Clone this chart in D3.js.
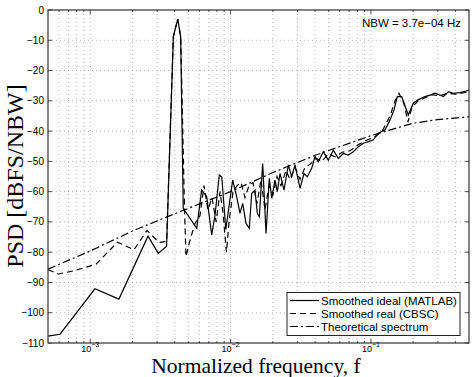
<!DOCTYPE html>
<head>
  <meta charset="utf-8">
  <script src="https://d3js.org/d3.v7.min.js"></script>
  <style>
    body { margin:0; background:#fff; }
    svg { display:block; }
  </style>
</head>
<body>
<svg width="474" height="377"></svg>
<script>

// smoothed ideal (MATLAB) - solid
const idealF = [5.0e-4, 6.09e-4, 1.08e-3, 1.60e-3, 2.58e-3, 3.05e-3, 3.50e-3, 3.91e-3, 4.20e-3, 4.41e-3,
  4.60e-3, 5.74e-3, 6.22e-3, 6.76e-3, 7.34e-3, 7.75e-3, 8.31e-3, 8.65e-3, 9.25e-3, 1.035e-2,
  1.106e-2, 1.167e-2, 1.220e-2, 1.288e-2, 1.360e-2, 1.414e-2, 1.493e-2, 1.551e-2, 1.602e-2, 1.694e-2,
  1.789e-2, 1.888e-2, 1.964e-2, 2.073e-2, 2.153e-2, 2.250e-2, 2.403e-2, 2.579e-2, 2.727e-2, 2.877e-2,
  3.125e-2, 3.337e-2, 3.522e-2, 3.785e-2, 3.995e-2, 4.218e-2, 4.578e-2, 4.970e-2, 5.395e-2, 5.856e-2,
  6.358e-2, 6.902e-2, 7.493e-2, 8.134e-2, 8.830e-2, 9.586e-2, 0.1041, 0.1130, 0.1261, 0.1368,
  0.1461, 0.1542, 0.1658, 0.1847, 0.2005, 0.2177, 0.2430, 0.2638, 0.2863, 0.3108,
  0.3281, 0.3561, 0.3866, 0.4315, 0.5]
const idealDb = [-107.7, -107.1, -92.1, -95.5, -74.7, -80.4, -78.0, -8.8, -3.0, -8.8,
  -65.5, -72.1, -59.5, -61.7, -74.3, -67.7, -54.5, -55.1, -72.5, -56.2,
  -61.7, -67.2, -63.9, -70.5, -72.1, -60.6, -59.5, -67.2, -68.3, -50.7,
  -73.8, -55.6, -62.2, -56.2, -60.0, -54.0, -59.5, -51.2, -55.1, -51.2,
  -58.9, -54.0, -55.1, -52.3, -48.4, -50.1, -46.8, -49.6, -46.3, -49.0,
  -47.4, -47.9, -46.8, -45.2, -44.0, -43.5, -42.9, -40.7, -39.6, -36.3,
  -33.0, -28.6, -28.6, -34.7, -30.8, -29.6, -28.6, -28.1, -27.5, -28.1,
  -28.6, -27.0, -27.5, -27.3, -26.5]

// smoothed real (CBSC) - dashed
const realF = [5.0e-4, 5.92e-4, 7.57e-4, 1.099e-3, 1.564e-3, 2.05e-3, 2.538e-3, 3.09e-3, 3.50e-3, 3.91e-3,
  4.20e-3, 4.41e-3, 4.69e-3, 4.81e-3, 5.14e-3, 5.58e-3, 6.05e-3, 6.47e-3, 6.90e-3, 7.37e-3,
  7.89e-3, 8.41e-3, 8.83e-3, 9.35e-3, 9.75e-3, 1.041e-2, 1.112e-2, 1.187e-2, 1.267e-2, 1.353e-2,
  1.444e-2, 1.542e-2, 1.647e-2, 1.759e-2, 1.878e-2, 2.006e-2, 2.142e-2, 2.287e-2, 2.483e-2, 2.652e-2,
  2.877e-2, 3.125e-2, 3.391e-2, 3.681e-2, 4.06e-2, 4.48e-2, 4.97e-2, 5.55e-2, 6.22e-2, 7.1e-2,
  8.1e-2, 9.27e-2, 0.1057, 0.1205, 0.1368, 0.1486, 0.1586, 0.1721, 0.1838, 0.1963,
  0.2177, 0.243, 0.2725, 0.3108, 0.3544, 0.404, 0.5]
const realDb = [-85.8, -87.2, -86.2, -84.0, -76.7, -79.2, -72.8, -76.8, -76.5, -8.8,
  -3.0, -8.8, -64.5, -81.5, -76.0, -70.5, -68.0, -58.0, -66.0, -62.0,
  -70.0, -60.0, -67.0, -80.0, -70.0, -60.0, -58.0, -57.0, -62.0, -58.0,
  -57.0, -64.0, -56.0, -66.0, -58.0, -61.0, -55.0, -58.0, -53.0, -56.0,
  -52.0, -56.0, -52.0, -51.0, -49.0, -50.0, -47.5, -48.5, -47.0, -46.5,
  -44.5, -43.0, -42.0, -40.0, -35.0, -30.0, -27.5, -31.0, -37.0, -32.0,
  -30.0, -29.0, -28.0, -28.3, -27.5, -27.8, -27.0]

// theoretical spectrum - dash-dot
const theoF = [5e-4, 1e-3, 2e-3, 4e-3, 1e-2, 2e-2, 4e-2, 0.1, 0.2, 0.3, 0.5]
const theoDb = [-85.6, -79.6, -73.0, -67.3, -60.0, -53.7, -48.0, -41.5, -37.4, -36.2, -35.3]

const yTicks = d3.range(-110, 1, 10)
const xMajor = [1e-3, 1e-2, 1e-1]
const xMinor = [6e-4, 7e-4, 8e-4, 9e-4, 2e-3, 3e-3, 4e-3, 5e-3, 6e-3, 7e-3, 8e-3, 9e-3,
  2e-2, 3e-2, 4e-2, 5e-2, 6e-2, 7e-2, 8e-2, 9e-2, 2e-1, 3e-1, 4e-1]
const xExp = ['\u22123', '\u22122', '\u22121']

const legendItems = [
  {label: 'Smoothed ideal (MATLAB)', dash: null},
  {label: 'Smoothed real (CBSC)', dash: '6,4'},
  {label: 'Theoretical spectrum', dash: '8,3,2,3'}
]

const svg = d3.select('svg')
const L = 48, R = 469, T = 10, B = 343

const x = d3.scaleLog().domain([5e-4, 0.5]).range([L, R])
const y = d3.scaleLinear().domain([-110, 0]).range([B, T])

// grid
const grid = svg.append('g')
  .attr('stroke', '#a8a8a8').attr('stroke-width', 0.8).attr('stroke-dasharray', '1,3')
grid.selectAll('.gx').data(xMajor.concat(xMinor)).enter().append('line')
  .attr('x1', d => x(d)).attr('x2', d => x(d)).attr('y1', T).attr('y2', B)
grid.selectAll('.gy').data(yTicks.slice(1, -1)).enter().append('line')
  .attr('x1', L).attr('x2', R).attr('y1', d => y(d)).attr('y2', d => y(d))

// ticks inside the box on all four sides
const tk = svg.append('g').attr('stroke', '#222').attr('stroke-width', 0.8)
tk.selectAll('.tl').data(yTicks).enter().append('line')
  .attr('x1', L).attr('x2', L + 4).attr('y1', d => y(d)).attr('y2', d => y(d))
tk.selectAll('.tr').data(yTicks).enter().append('line')
  .attr('x1', R).attr('x2', R - 4).attr('y1', d => y(d)).attr('y2', d => y(d))
tk.selectAll('.tb').data(xMajor).enter().append('line')
  .attr('x1', d => x(d)).attr('x2', d => x(d)).attr('y1', B).attr('y2', B - 4)
tk.selectAll('.tt').data(xMajor).enter().append('line')
  .attr('x1', d => x(d)).attr('x2', d => x(d)).attr('y1', T).attr('y2', T + 4)
tk.selectAll('.mb').data(xMinor).enter().append('line')
  .attr('x1', d => x(d)).attr('x2', d => x(d)).attr('y1', B).attr('y2', B - 2)
tk.selectAll('.mt').data(xMinor).enter().append('line')
  .attr('x1', d => x(d)).attr('x2', d => x(d)).attr('y1', T).attr('y2', T + 2)

// series
const line = d3.line().x(d => x(d[0])).y(d => y(d[1]))
const plot = svg.append('g').attr('fill', 'none').attr('stroke', '#000').attr('stroke-width', 1.2)
  .attr('stroke-linejoin', 'miter')

plot.append('path').datum(theoF.map((f, i) => [f, theoDb[i]]))
  .attr('d', line).attr('stroke-dasharray', '8,3,2,3')
plot.append('path').datum(realF.map((f, i) => [f, realDb[i]]))
  .attr('d', line).attr('stroke-dasharray', '6,4')
plot.append('path').datum(idealF.map((f, i) => [f, idealDb[i]]))
  .attr('d', line)

// box
svg.append('rect').attr('x', L).attr('y', T).attr('width', R - L).attr('height', B - T)
  .attr('fill', 'none').attr('stroke', '#333').attr('stroke-width', 1.2)

// y tick labels
svg.append('g').selectAll('text').data(yTicks).enter().append('text')
  .attr('x', L - 4).attr('y', d => y(d) + 3.5)
  .attr('text-anchor', 'end')
  .attr('font-family', 'Liberation Sans, Arial, sans-serif').attr('font-size', 10)
  .text(d => d < 0 ? '\u2212' + Math.abs(d) : d)

// x tick labels 10^n
const xl = svg.append('g').attr('font-family', 'Liberation Sans, Arial, sans-serif')
xMajor.forEach((d, i) => {
  const t = xl.append('text').attr('x', x(d)).attr('y', 351.5).attr('text-anchor', 'middle')
  t.append('tspan').attr('font-size', 9).text('10')
  t.append('tspan').attr('font-size', 7).attr('dy', -5).text(xExp[i])
})

// NBW note
svg.append('text').attr('x', 461).attr('y', 27).attr('text-anchor', 'end')
  .attr('font-family', 'Liberation Sans, Arial, sans-serif').attr('font-size', 11.5)
  .text('NBW = 3.7e\u221204 Hz')

// legend
const lg = svg.append('g')
lg.append('rect').attr('x', 287).attr('y', 292.5).attr('width', 173).attr('height', 43)
  .attr('fill', '#fff').attr('stroke', '#222').attr('stroke-width', 1)
legendItems.forEach((d, i) => {
  const ly = 300.5 + i * 13
  lg.append('line').attr('x1', 290).attr('x2', 319).attr('y1', ly).attr('y2', ly)
    .attr('stroke', '#000').attr('stroke-width', 1.2)
    .attr('stroke-dasharray', d.dash)
  lg.append('text').attr('x', 321).attr('y', ly + 4.5)
    .attr('font-family', 'Liberation Sans, Arial, sans-serif').attr('font-size', 11.5)
    .text(d.label)
})

// axis titles
svg.append('text').attr('x', 256).attr('y', 373).attr('text-anchor', 'middle')
  .attr('font-family', 'Liberation Serif, serif').attr('font-size', 21.5)
  .text('Normalized frequency, f')
svg.append('text').attr('transform', 'translate(23,176) rotate(-90)').attr('text-anchor', 'middle')
  .attr('font-family', 'Liberation Serif, serif').attr('font-size', 24)
  .text('PSD [dBFS/NBW]')

</script>
</body>
